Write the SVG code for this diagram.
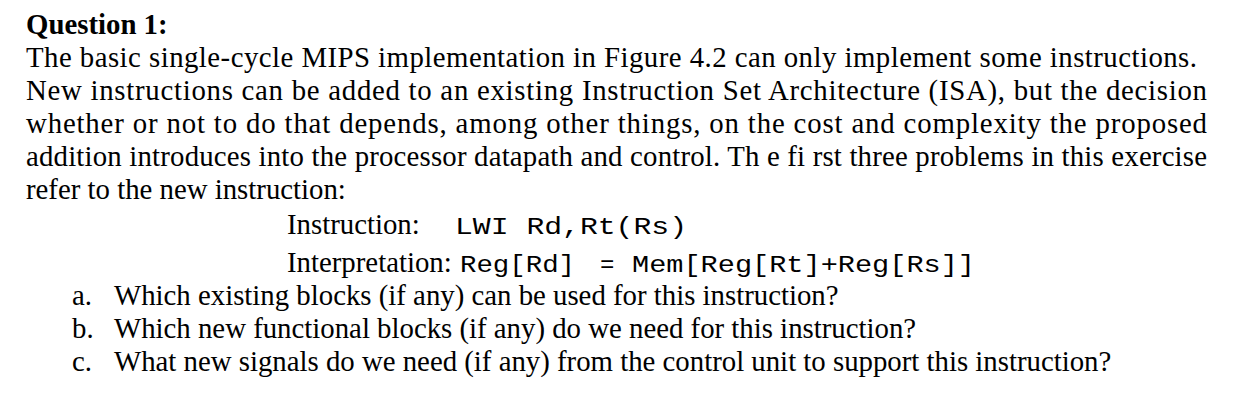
<svg xmlns="http://www.w3.org/2000/svg" width="1245" height="415" viewBox="0 0 1245 415">
<style>
text{font-family:"Liberation Serif","Times New Roman",serif;font-size:28.8px;fill:#000}
.m{font-family:"Liberation Mono","Courier New",monospace;font-size:24px}
.b{font-weight:bold}
</style>
<rect width="1245" height="415" fill="#fff"/>
<text class="b" x="26" y="34">Question 1:</text>
<text x="26" y="67" textLength="1171" lengthAdjust="spacing">The basic single-cycle MIPS implementation in Figure 4.2 can only implement some instructions.</text>
<text x="26" y="100" textLength="1181" lengthAdjust="spacing">New instructions can be added to an existing Instruction Set Architecture (ISA), but the decision</text>
<text x="26" y="133" textLength="1181" lengthAdjust="spacing">whether or not to do that depends, among other things, on the cost and complexity the proposed</text>
<text x="26" y="166" textLength="1181" lengthAdjust="spacing">addition introduces into the processor datapath and control. Th e fi rst three problems in this exercise</text>
<text x="26" y="199">refer to the new instruction:</text>
<text x="287" y="234">Instruction:</text>
<text class="m" x="455" y="234" textLength="232" lengthAdjust="spacingAndGlyphs">LWI Rd,Rt(Rs)</text>
<text x="287" y="272">Interpretation:</text>
<text class="m" x="460" y="272" textLength="115" lengthAdjust="spacingAndGlyphs">Reg[Rd]</text>
<text class="m" x="600" y="272">=</text>
<text class="m" x="632" y="272" textLength="343" lengthAdjust="spacingAndGlyphs">Mem[Reg[Rt]+Reg[Rs]]</text>
<text x="72" y="305">a.</text>
<text x="114" y="305">Which existing blocks (if any) can be used for this instruction?</text>
<text x="72" y="338">b.</text>
<text x="114" y="338">Which new functional blocks (if any) do we need for this instruction?</text>
<text x="72" y="371">c.</text>
<text x="114" y="371">What new signals do we need (if any) from the control unit to support this instruction?</text>
</svg>
